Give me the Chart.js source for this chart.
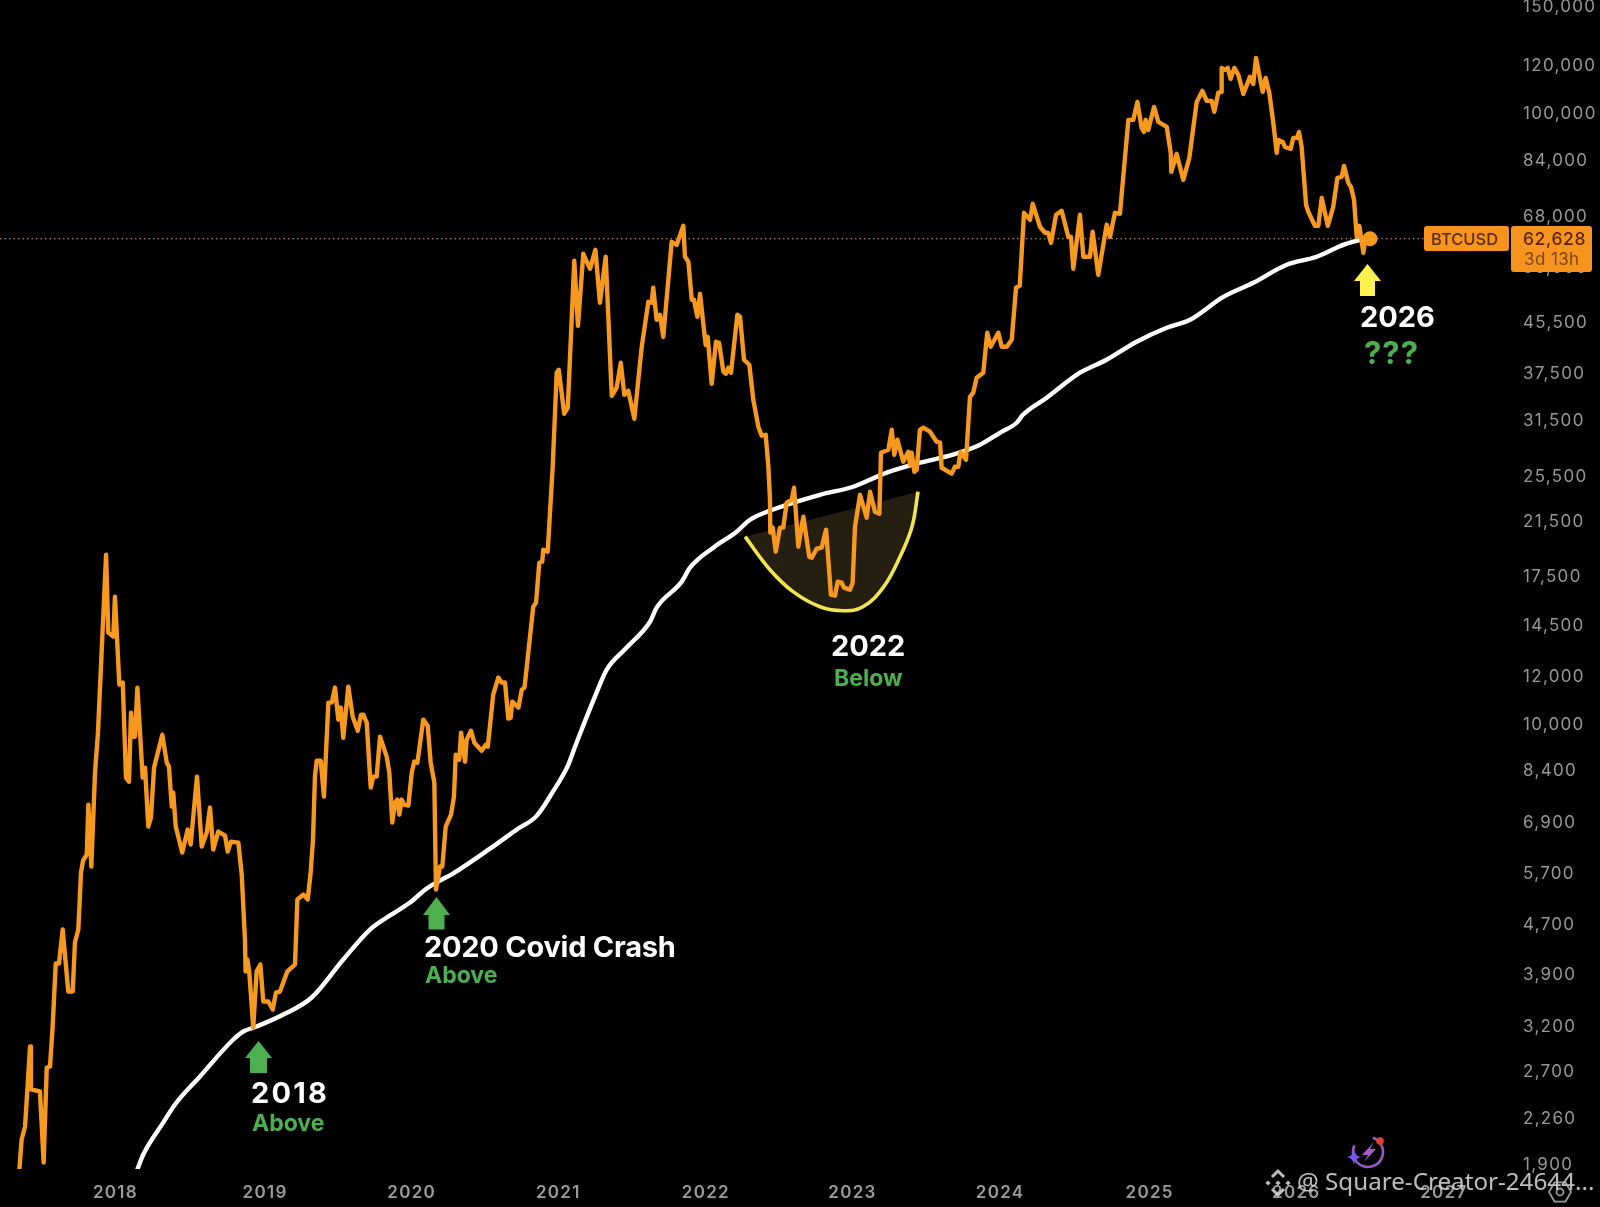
<!DOCTYPE html>
<html>
<head>
<meta charset="utf-8">
<style>html,body{margin:0;padding:0;background:#000;}canvas{display:block;}</style>
<script src="https://cdn.jsdelivr.net/npm/chart.js@4"></script>
</head>
<body>
<canvas id="c" width="1600" height="1207"></canvas>
<script>
const yearTicks = [2018,2019,2020,2021,2022,2023,2024,2025,2026,2027];
const priceTicks = [150000,120000,100000,84000,68000,56000,45500,37500,31500,25500,21500,17500,14500,12000,10000,8400,6900,5700,4700,3900,3200,2700,2260,1900];

const btcYears = [2017.353,2017.371,2017.394,2017.428,2017.434,2017.495,2017.520,2017.541,2017.563,2017.581,2017.602,2017.624,2017.649,2017.687,2017.717,2017.732,2017.755,2017.773,2017.787,2017.812,2017.823,2017.843,2017.868,2017.888,2017.943,2017.958,2017.992,2018.003,2018.033,2018.056,2018.078,2018.098,2018.112,2018.127,2018.139,2018.155,2018.191,2018.207,2018.229,2018.247,2018.268,2018.324,2018.354,2018.369,2018.388,2018.398,2018.415,2018.459,2018.496,2018.516,2018.559,2018.591,2018.625,2018.647,2018.669,2018.703,2018.749,2018.767,2018.789,2018.839,2018.862,2018.884,2018.888,2018.900,2018.913,2018.940,2018.963,2018.988,2019.008,2019.042,2019.072,2019.094,2019.121,2019.171,2019.223,2019.239,2019.279,2019.309,2019.329,2019.345,2019.358,2019.370,2019.397,2019.419,2019.449,2019.472,2019.494,2019.516,2019.533,2019.550,2019.584,2019.614,2019.648,2019.670,2019.686,2019.709,2019.736,2019.753,2019.776,2019.799,2019.844,2019.862,2019.882,2019.900,2019.916,2019.930,2019.946,2019.961,2019.991,2020.014,2020.031,2020.052,2020.092,2020.122,2020.142,2020.167,2020.178,2020.205,2020.221,2020.244,2020.280,2020.300,2020.312,2020.336,2020.348,2020.375,2020.386,2020.415,2020.438,2020.488,2020.515,2020.529,2020.566,2020.600,2020.623,2020.646,2020.668,2020.684,2020.695,2020.737,2020.759,2020.778,2020.837,2020.856,2020.878,2020.898,2020.905,2020.935,2020.969,2020.996,2021.010,2021.047,2021.071,2021.115,2021.140,2021.176,2021.222,2021.258,2021.289,2021.328,2021.369,2021.402,2021.430,2021.454,2021.481,2021.522,2021.572,2021.617,2021.640,2021.650,2021.673,2021.696,2021.718,2021.775,2021.809,2021.854,2021.865,2021.888,2021.911,2021.926,2021.949,2021.967,2022.005,2022.019,2022.046,2022.075,2022.096,2022.125,2022.143,2022.159,2022.177,2022.220,2022.238,2022.265,2022.301,2022.328,2022.362,2022.385,2022.412,2022.430,2022.441,2022.443,2022.459,2022.480,2022.509,2022.531,2022.554,2022.588,2022.604,2022.633,2022.667,2022.707,2022.724,2022.757,2022.791,2022.821,2022.854,2022.881,2022.900,2022.927,2022.942,2022.983,2023.001,2023.017,2023.051,2023.096,2023.119,2023.152,2023.182,2023.193,2023.243,2023.266,2023.283,2023.304,2023.344,2023.378,2023.390,2023.401,2023.419,2023.435,2023.457,2023.480,2023.525,2023.570,2023.593,2023.604,2023.672,2023.694,2023.717,2023.732,2023.769,2023.796,2023.818,2023.841,2023.886,2023.913,2023.936,2023.988,2024.011,2024.045,2024.079,2024.108,2024.133,2024.162,2024.203,2024.221,2024.270,2024.304,2024.325,2024.345,2024.379,2024.417,2024.462,2024.480,2024.496,2024.541,2024.564,2024.609,2024.627,2024.665,2024.722,2024.745,2024.778,2024.812,2024.869,2024.902,2024.930,2024.959,2024.975,2024.986,2025.004,2025.043,2025.072,2025.129,2025.156,2025.160,2025.196,2025.241,2025.282,2025.332,2025.370,2025.400,2025.434,2025.451,2025.478,2025.497,2025.501,2025.524,2025.542,2025.562,2025.587,2025.614,2025.648,2025.693,2025.715,2025.734,2025.779,2025.799,2025.824,2025.851,2025.874,2025.885,2025.915,2025.930,2025.969,2025.986,2026.012,2026.025,2026.043,2026.073,2026.088,2026.133,2026.156,2026.179,2026.220,2026.257,2026.285,2026.314,2026.330,2026.359,2026.377,2026.398,2026.416,2026.434,2026.461,2026.477,2026.506];
const btcPrices = [1820,2077,2181,2949,2508,2489,1904,2724,2735,3180,4033,4033,4585,3629,3629,4366,4585,5684,5947,6083,7345,5814,8287,9634,18850,14050,13840,16090,11550,11640,8132,8010,10390,9488,9488,11420,8132,8443,6760,6993,8443,9559,8603,8476,7290,7684,6760,6129,6684,6316,8162,6269,6609,7263,6199,6634,6534,6153,6388,6365,5641,4415,3914,4095,3914,3169,3914,4018,3495,3495,3391,3615,3629,3914,4018,5134,5231,5134,5684,6437,8162,8670,8670,7568,10790,10790,11420,10120,10590,9453,11460,10230,9706,10310,10310,10000,7830,8162,8162,9488,8801,8287,6864,7400,7485,7073,7485,7345,7318,8287,8638,8603,10120,9891,8603,7980,5331,5814,5814,6760,7073,7568,8868,8703,9634,8638,9383,9706,9277,9003,9206,9137,11120,11860,11640,11640,10160,10190,10830,10590,11330,11420,15490,15730,18290,18360,19210,19070,26270,37450,37870,32080,32820,57120,44700,58650,55420,59540,48750,57990,34330,35390,38880,34460,34990,31480,41300,48940,48750,51590,45730,46600,42880,61370,60670,65180,57990,56910,49310,49310,46250,50430,41610,42880,35920,42090,41930,37590,37310,38160,37450,46600,46250,39330,38590,33820,30550,29530,29630,26270,23200,20490,20880,19070,20880,20880,22940,23200,24270,19430,21760,18710,18640,19280,19360,20720,16210,16150,17030,16960,16650,16520,16960,20950,23630,21680,23910,22170,22000,27690,28010,30200,27490,29090,26770,27800,26470,27690,25780,25970,30200,30440,29980,28870,28760,26170,25590,26270,26270,27800,26970,34200,34730,36750,37450,43540,41300,43540,41300,41300,42410,51590,51980,68450,66670,70820,64940,63490,63490,61140,67950,68980,62530,62530,55420,67950,57990,57990,63730,54180,65430,62530,68450,68200,97180,97180,104010,94310,92880,97180,93590,102060,96460,94660,85820,79890,85500,77510,84220,104010,108420,104410,104410,100170,107600,108010,118240,117350,118240,113450,118240,115160,107190,114300,111310,122790,108010,113880,107600,96100,85820,90130,89450,87770,87130,90810,90810,92880,87770,70560,68720,65180,65180,72430,65180,70020,78110,78400,81710,76640,75490,71900,62530,65180,58870,62530,62070];

const maYears = [2018.105,2018.155,2018.195,2018.331,2018.410,2018.579,2018.805,2018.873,2018.963,2019.144,2019.336,2019.550,2019.731,2019.844,2020.002,2020.115,2020.205,2020.293,2020.544,2020.725,2020.860,2020.962,2021.075,2021.120,2021.255,2021.335,2021.470,2021.628,2021.673,2021.843,2021.899,2022.057,2022.215,2022.306,2022.441,2022.780,2023.005,2023.232,2023.457,2023.681,2023.864,2023.999,2024.112,2024.155,2024.316,2024.541,2024.722,2024.925,2025.129,2025.287,2025.512,2025.715,2025.942,2026.145,2026.280,2026.325,2026.438];
const maPrices = [1726,1855,1963,2215,2370,2634,3028,3121,3180,3327,3548,4095,4585,4797,5076,5351,5515,5663,6220,6684,7039,7655,8540,9137,11040,12220,13280,14640,15440,17030,17950,19360,20560,21510,22260,23630,24360,25690,26670,27490,28540,29860,31010,31960,34080,37450,39330,42090,44370,45730,49860,52570,56270,57990,60000,60670,61830];

const cupYears = [2022.272,2022.441,2022.597,2022.780,2022.936,2023.071,2023.207,2023.322,2023.403,2023.444];
const cupPrices = [20180,17810,16400,15490,15260,15490,16650,18710,20950,23910];
const chordYears = [2022.272,2023.444];
const chordPrices = [20180,23910];

const priceLineYears = [2017.2243,2026.872];
const priceLineLevels = [62070,62070];
const lastYear = [2026.506];
const lastLevel = [62070];

const xMin = 2017.2243, xMax = 2027.5088, yMin = 1858, yMax = 152760;
const yearLabelNudge = [1,3,2,1,1,0,0,2,1,1];

const pts = (xs, ys) => xs.map((x, i) => ({x, y: ys[i]}));
const ORANGE = '#f7981f';
const GREEN = '#4caf50';
const YELLOW = '#f2e54e';

function arrow(ctx, tipX, tipY, headBase, halfHead, halfShaft, bottom, color) {
  ctx.fillStyle = color;
  ctx.beginPath();
  ctx.moveTo(tipX, tipY);
  ctx.lineTo(tipX + halfHead, headBase);
  ctx.lineTo(tipX + halfShaft, headBase);
  ctx.lineTo(tipX + halfShaft, bottom);
  ctx.lineTo(tipX - halfShaft, bottom);
  ctx.lineTo(tipX - halfShaft, headBase);
  ctx.lineTo(tipX - halfHead, headBase);
  ctx.closePath();
  ctx.fill();
}
function label(ctx, text, x, y, font, color, spacing) {
  ctx.font = font;
  ctx.fillStyle = color;
  ctx.letterSpacing = spacing || '0px';
  ctx.textAlign = 'left';
  ctx.textBaseline = 'alphabetic';
  ctx.fillText(text, x, y);
  ctx.letterSpacing = '0px';
}
function box(ctx, x, y, w, h, r, color) {
  ctx.fillStyle = color;
  ctx.beginPath();
  ctx.roundRect(x, y, w, h, r);
  ctx.fill();
}

const areaFix = {
  id: 'areaFix',
  afterLayout(chart) {
    const {x, y} = chart.scales;
    const R = 1518, B = 1169;
    x.left = 0; x.right = R; x.width = R; x.top = B; x.bottom = 1207; x.height = 38;
    y.left = R; y.right = 1600; y.width = 82; y.top = 0; y.bottom = B; y.height = B;
    x.configure(); y.configure();
    const a = chart.chartArea;
    a.left = 0; a.top = 0; a.right = R; a.bottom = B; a.width = R; a.height = B;
    const yItems = y._computeLabelItems.bind(y);
    y._computeLabelItems = ca => yItems(ca).map(it => { it.options.translation[1] += 2; return it; });
    const xItems = x._computeLabelItems.bind(x);
    x._computeLabelItems = ca => xItems(ca).map((it, i) => { it.options.translation[0] += yearLabelNudge[i] || 0; return it; });
  },
  beforeDraw(chart) { chart.ctx.letterSpacing = '1.3px'; }
};

const overlay = {
  id: 'overlay',
  afterDraw(chart) {
    const ctx = chart.ctx;
    ctx.save();
    arrow(ctx, 258.5, 1041, 1058, 13.5, 8.5, 1073, GREEN);
    arrow(ctx, 436.5, 897, 915, 13.5, 8, 929.5, GREEN);
    arrow(ctx, 1367.5, 264, 281, 13.5, 7.5, 296, '#fdf14f');

    const bold = '700 29px Inter';
    const sub = '700 23px Inter';
    label(ctx, '2018', 251, 1103, bold, '#fff', '2.2px');
    label(ctx, 'Above', 252, 1131, sub, GREEN);
    label(ctx, '2020 Covid Crash', 424, 957, bold, '#fff', '-0.25px');
    label(ctx, 'Above', 425, 983, sub, GREEN);
    label(ctx, '2022', 831, 656, bold, '#fff');
    label(ctx, 'Below', 834, 686, sub, GREEN);
    label(ctx, '2026', 1360, 327, bold, '#fff');
    label(ctx, '???', 1364, 364, '700 31px Inter', GREEN, '1px');

    box(ctx, 1424, 226, 85, 25, 3, '#f7941d');
    box(ctx, 1511, 226, 81, 46, 3, '#f7941d');
    label(ctx, 'BTCUSD', 1431, 244.5, '500 16.5px Inter', '#5c2c06');
    label(ctx, '62,628', 1523, 244.5, '500 17.5px Inter', '#5c2406', '0.6px');
    label(ctx, '3d 13h', 1524, 265, '400 17px Inter', '#7d4608', '0.4px');

    // sparkle badge
    ctx.strokeStyle = '#9a5cc4';
    ctx.lineWidth = 2.6;
    ctx.beginPath();
    ctx.arc(1368, 1152, 15, -1.25, 3.6);
    ctx.stroke();
    ctx.fillStyle = '#a45fc0';
    ctx.beginPath();
    ctx.moveTo(1374, 1142); ctx.lineTo(1362, 1155); ctx.lineTo(1368, 1155);
    ctx.lineTo(1364, 1162); ctx.lineTo(1376, 1149); ctx.lineTo(1370, 1149);
    ctx.closePath(); ctx.fill();
    ctx.fillStyle = '#e2403f';
    ctx.beginPath(); ctx.arc(1380, 1141, 3.8, 0, Math.PI * 2); ctx.fill();
    ctx.fillStyle = '#7b55f0';
    ctx.beginPath();
    ctx.moveTo(1354, 1149); ctx.quadraticCurveTo(1355, 1156, 1361, 1157);
    ctx.quadraticCurveTo(1355, 1158, 1354, 1165); ctx.quadraticCurveTo(1353, 1158, 1347, 1157);
    ctx.quadraticCurveTo(1353, 1156, 1354, 1149);
    ctx.fill();

    // watermark
    ctx.globalAlpha = 0.86;
    label(ctx, '@ Square-Creator-24644...', 1297, 1190, '400 24.2px "Noto Sans"', '#dcdcdc');
    ctx.fillStyle = '#dcdcdc';
    const cx = 1278, cy = 1183;
    const diamond = (x, y, r) => { ctx.beginPath(); ctx.moveTo(x, y - r); ctx.lineTo(x + r, y); ctx.lineTo(x, y + r); ctx.lineTo(x - r, y); ctx.closePath(); ctx.fill(); };
    diamond(cx - 10, cy, 2.6); diamond(cx + 10, cy, 2.6); diamond(cx, cy, 2.6);
    ctx.strokeStyle = '#dcdcdc'; ctx.lineWidth = 3;
    ctx.beginPath(); ctx.moveTo(cx - 6, cy - 6); ctx.lineTo(cx, cy - 12); ctx.lineTo(cx + 6, cy - 6); ctx.stroke();
    ctx.beginPath(); ctx.moveTo(cx - 6, cy + 6); ctx.lineTo(cx, cy + 12); ctx.lineTo(cx + 6, cy + 6); ctx.stroke();
    // settings hexagon
    ctx.globalAlpha = 0.8;
    ctx.strokeStyle = '#bdbdbd'; ctx.lineWidth = 1.8;
    ctx.beginPath();
    for (let i = 0; i < 6; i++) {
      const a = Math.PI / 3 * i;
      const px = 1560 + 11 * Math.cos(a), py = 1192 + 11 * Math.sin(a);
      if (i) ctx.lineTo(px, py); else ctx.moveTo(px, py);
    }
    ctx.closePath(); ctx.stroke();
    ctx.beginPath(); ctx.arc(1560, 1192, 3.5, 0, Math.PI * 2); ctx.stroke();
    ctx.restore();
  }
};

new Chart(document.getElementById('c'), {
  type: 'line',
  plugins: [areaFix, overlay],
  data: {
    datasets: [
      {data: pts(lastYear, lastLevel), order: 0, showLine: false, pointRadius: 7.5, pointBackgroundColor: ORANGE, pointBorderWidth: 0},
      {data: pts(btcYears, btcPrices), order: 1, borderColor: ORANGE, borderWidth: 4.4, tension: 0, pointRadius: 0, borderJoinStyle: 'round', borderCapStyle: 'round'},
      {data: pts(maYears, maPrices), order: 2, borderColor: '#ffffff', borderWidth: 4.4, cubicInterpolationMode: 'monotone', pointRadius: 0, borderCapStyle: 'round'},
      {data: pts(cupYears, cupPrices), order: 3, borderColor: YELLOW, borderWidth: 3.6, tension: 0.4, pointRadius: 0, fill: {target: 4}, backgroundColor: '#241f10'},
      {data: pts(chordYears, chordPrices), order: 4, borderWidth: 0, borderColor: 'rgba(0,0,0,0)', pointRadius: 0},
      {data: pts(priceLineYears, priceLineLevels), order: 5, borderColor: '#c9a47c', borderWidth: 1.2, borderDash: [1.5, 3], pointRadius: 0}
    ]
  },
  options: {
    responsive: false,
    devicePixelRatio: 1,
    animation: false,
    layout: {padding: 0, autoPadding: false},
    plugins: {legend: {display: false}, title: {display: false}, tooltip: {enabled: false}},
    scales: {
      x: {
        type: 'linear', min: xMin, max: xMax,
        grid: {display: false, drawTicks: false}, border: {display: false},
        afterBuildTicks(s) { s.ticks = yearTicks.map(v => ({value: v})); },
        ticks: {
          autoSkip: false, maxRotation: 0, padding: 14,
          color: '#9b9b9b', font: {family: 'Inter', size: 17, weight: '600'},
          callback: v => String(v)
        }
      },
      y: {
        type: 'logarithmic', position: 'right', min: yMin, max: yMax,
        grid: {display: false, drawTicks: false}, border: {display: false},
        afterBuildTicks(s) { s.ticks = priceTicks.map(v => ({value: v})); },
        ticks: {
          autoSkip: false, padding: 5, align: 'center', crossAlign: 'near',
          color: '#979797', font: {family: 'Inter', size: 17, weight: '400'},
          callback: v => Number(v).toLocaleString('en-US')
        }
      }
    }
  }
});
</script>
</body>
</html>
